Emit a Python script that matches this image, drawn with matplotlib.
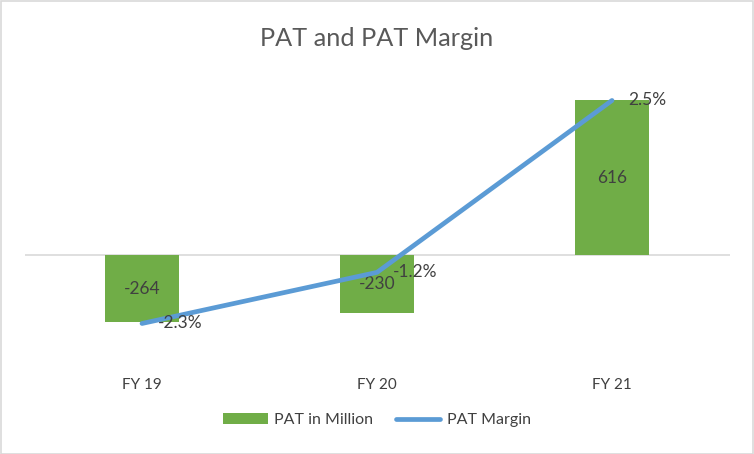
import matplotlib
matplotlib.use("Agg")
import matplotlib.pyplot as plt
from matplotlib.patches import Patch, Rectangle
from matplotlib.lines import Line2D

categories = ["FY 19", "FY 20", "FY 21"]
pat_million = [-264, -230, 616]
pat_margin = [-2.3, -1.2, 2.5]
pat_margin_labels = ["-2.3%", "-1.2%", "2.5%"]

BAR_C = "#70AD47"
LINE_C = "#5B9BD5"
TXT = "#404040"
FONT = ["Lato", "DejaVu Sans"]
plt.rcParams['font.family'] = FONT

W, H = 754, 454
fig = plt.figure(figsize=(W / 100, H / 100), dpi=100)
fig.patch.set_facecolor("white")
fig.add_artist(Rectangle((0.5 / W, 0.5 / H), 1 - 1.5 / W, 1 - 1.5 / H, transform=fig.transFigure,
                         fill=False, edgecolor="#D9D9D9", linewidth=1.2))

left, right = 24.5 / W, 729.5 / W
top_px, bot_px = 54, 356
ax = fig.add_axes([left, (H - bot_px) / H, right - left, (bot_px - top_px) / H])
x = list(range(len(categories)))
ax.bar(x, pat_million, width=0.315, color=BAR_C, zorder=2)
ax.set_xlim(-0.5, len(categories) - 0.5)
ax.set_ylim(-400, 800)
ax.axhline(0, color="#D9D9D9", linewidth=1.2, zorder=1)
for s in ax.spines.values():
    s.set_visible(False)
ax.set_yticks([])
ax.set_xticks(x)
ax.set_xticklabels(categories, fontsize=11, color=TXT)
ax.tick_params(axis="x", length=0, pad=16)
for xi, v in zip(x, pat_million):
    ax.text(xi, v / 2, str(v), ha="center", va="center", fontsize=12.5, color=TXT, zorder=4)

ax2 = ax.twinx()
ax2.plot(x, pat_margin, color=LINE_C, linewidth=3.4, solid_capstyle="round", zorder=3)
ax2.set_ylim(-3.0, 3.5)
ax2.set_yticks([])
for s in ax2.spines.values():
    s.set_visible(False)
for xi, v, lab in zip(x, pat_margin, pat_margin_labels):
    ax2.annotate(lab, (xi, v), xytext=(16, 0), textcoords="offset pixels",
                 ha="left", va="center", fontsize=12.5, color=TXT, zorder=5)

fig.text(0.5, 1 - 38 / H, "PAT and PAT Margin", ha="center", va="center",
         fontsize=18.2, color="#595959")

handles = [Patch(facecolor=BAR_C, edgecolor="none"),
           Line2D([0], [0], color=LINE_C, linewidth=3.4, solid_capstyle="round")]
fig.legend(handles, ["PAT in Million", "PAT Margin"], loc="center",
           bbox_to_anchor=(0.5, 1 - 420 / H), ncol=2, frameon=False,
           fontsize=11.5, labelcolor=TXT, handlelength=2.8, handletextpad=0.4,
           columnspacing=1.4)

fig.savefig("out.png", dpi=100)
